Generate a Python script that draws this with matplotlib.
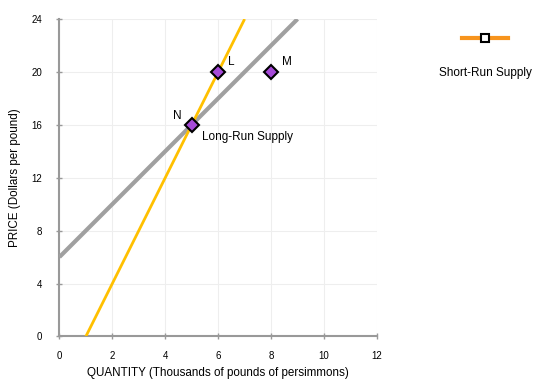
import matplotlib
matplotlib.use("Agg")
import matplotlib.pyplot as plt
from matplotlib.lines import Line2D

plt.rcParams['font.family'] = ['Liberation Sans', 'DejaVu Sans']

# short-run supply (yellow) and long-run supply (gray) end points
sr_qty = [1, 7]
sr_price = [0, 24]
lr_qty = [0, 9]
lr_price = [6, 24]

# labelled points
pt_names = ['L', 'M', 'N']
pt_qty = [6, 8, 5]
pt_price = [20, 20, 16]

x_ticks = [0, 2, 4, 6, 8, 10, 12]
y_ticks = [0, 4, 8, 12, 16, 20, 24]

fig = plt.figure(figsize=(5.4, 3.81), dpi=100)
ax = fig.add_axes([0.110, 0.117, 0.588, 0.833])

ax.plot(lr_qty, lr_price, color='#a0a0a0', lw=3, solid_capstyle='butt', zorder=3)
ax.plot(sr_qty, sr_price, color='#ffc000', lw=2, solid_capstyle='butt', zorder=4)
ax.plot(pt_qty, pt_price, 'D', color='#a64ad8', markeredgecolor='black',
        markeredgewidth=1.5, markersize=7.5, zorder=5, clip_on=False)

offsets = {'L': (0.5, 0.75), 'M': (0.6, 0.75), 'N': (-0.55, 0.65)}
for name, q, p in zip(pt_names, pt_qty, pt_price):
    dx, dy = offsets[name]
    ax.text(q + dx, p + dy, name, fontsize=8.5, ha='center', va='center')

ax.text(5.4, 15.1, 'Long-Run Supply', fontsize=8.5, ha='left', va='center')

ax.set_xlim(0, 12)
ax.set_ylim(0, 24)
ax.set_xticks(x_ticks)
ax.set_yticks(y_ticks)
ax.tick_params(labelsize=7, length=5, width=1, color='#999999', direction='inout')
ax.tick_params(axis='y', pad=10)
ax.tick_params(axis='x', pad=8)
ax.grid(True, color='#eeeeee', lw=0.8)
ax.set_axisbelow(True)
for s in ['top', 'right']:
    ax.spines[s].set_visible(False)
for s in ['left', 'bottom']:
    ax.spines[s].set_color('#999999')
    ax.spines[s].set_linewidth(1.5)

ax.set_xlabel('QUANTITY (Thousands of pounds of persimmons)', fontsize=8.4, labelpad=4)
ax.set_ylabel('PRICE (Dollars per pound)', fontsize=8.4, labelpad=7)

# legend drawn to the right of the plot
fig.add_artist(Line2D([462 / 540, 508 / 540], [1 - 38 / 381, 1 - 38 / 381],
                      color='#f7941d', lw=3, transform=fig.transFigure))
fig.add_artist(Line2D([485 / 540], [1 - 38 / 381], marker='s', markersize=6,
                      markerfacecolor='white', markeredgecolor='black',
                      markeredgewidth=1.5, transform=fig.transFigure))
fig.text(485 / 540, 1 - 73 / 381, 'Short-Run Supply', fontsize=8.5,
         ha='center', va='center')

fig.savefig('out.png', dpi=100)
